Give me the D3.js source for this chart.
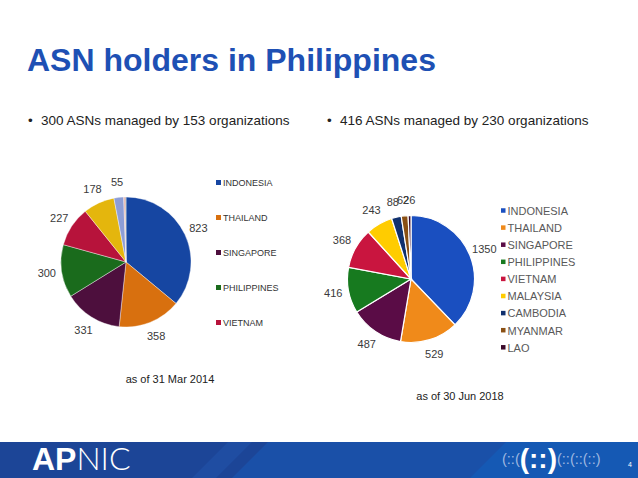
<!DOCTYPE html>
<html>
<head>
<meta charset="utf-8">
<script src="https://cdn.jsdelivr.net/npm/d3@7"></script>
<style>
  html, body { margin: 0; padding: 0; background: #fff; }
  svg { display: block; font-family: "Liberation Sans", Arial, sans-serif; }
</style>
</head>
<body>
<svg id="slide"></svg>
<script>
// 2014 chart
const countries2014 = ["INDONESIA", "THAILAND", "SINGAPORE", "PHILIPPINES", "VIETNAM", "MALAYSIA", "CAMBODIA", "MYANMAR", "LAO"];
const values2014 = [823, 358, 331, 300, 227, 178, 55, 8, 5];
const legend2014 = ["INDONESIA", "THAILAND", "SINGAPORE", "PHILIPPINES", "VIETNAM"];
const colors2014 = ["#1646a2", "#d8700f", "#4d0f3d", "#1a6b1c", "#b7133b", "#e4b60d", "#8d9dd6", "#e39d96", "#a89484"];

// 2018 chart
const countries2018 = ["INDONESIA", "THAILAND", "SINGAPORE", "PHILIPPINES", "VIETNAM", "MALAYSIA", "CAMBODIA", "MYANMAR", "LAO"];
const values2018 = [1350, 529, 487, 416, 368, 243, 88, 62, 26];
const colors2018 = ["#1a4fc0", "#f08a1a", "#5a0c46", "#177a1f", "#c9153f", "#ffcc00", "#10306e", "#8a5014", "#3a0a2a"];

const W = 638, H = 478;
const svg = d3.select("#slide").attr("width", W).attr("height", H);

// title + bullets
svg.append("text")
    .attr("x", 27).attr("y", 71)
    .attr("font-size", 32).attr("font-weight", "700")
    .attr("fill", "#1e50b4")
    .text("ASN holders in Philippines");

const bullets = [
    {x: 28, text: "300 ASNs managed by 153 organizations"},
    {x: 327, text: "416 ASNs managed by 230 organizations"}
];
bullets.forEach(b => {
    svg.append("text").attr("x", b.x).attr("y", 125).attr("font-size", 13.5).attr("fill", "#222").text("•");
    svg.append("text").attr("x", b.x + 13).attr("y", 125).attr("font-size", 13.5).attr("fill", "#222").text(b.text);
});

function drawPie(cfg) {
    let g = svg.append("g").attr("transform", `translate(${cfg.cx},${cfg.cy})`);
    let data = cfg.values.map((v, i) => ({name: cfg.names[i], value: v, color: cfg.colors[i], idx: i}));
    let pie = d3.pie().sort(null).value(d => d.value);
    let arcs = pie(data);
    let arc = d3.arc().innerRadius(0).outerRadius(cfg.r);
    let labelArc = d3.arc().innerRadius(cfg.labelR).outerRadius(cfg.labelR);

    g.selectAll(".slice").data(arcs).enter().append("path")
        .attr("class", "slice")
        .attr("d", arc)
        .attr("fill", d => d.data.color)
        .attr("stroke", "#fff")
        .attr("stroke-width", cfg.stroke);

    // outside-end labels, the small ones overlap as in the original slide
    g.selectAll(".lbl").data(arcs.filter(d => d.data.idx < cfg.nLabels)).enter().append("text")
        .attr("class", "lbl")
        .attr("transform", d => `translate(${labelArc.centroid(d)})`)
        .attr("text-anchor", "middle")
        .attr("dy", "0.35em")
        .attr("font-size", 11)
        .attr("fill", "#3a3a3a")
        .text(d => d.data.value);

    let lg = svg.append("g");
    let items = lg.selectAll(".item").data(cfg.legend).enter().append("g")
        .attr("transform", (d, i) => `translate(${cfg.lx},${cfg.ly + i * cfg.lstep})`);
    items.append("rect")
        .attr("x", 0).attr("y", -cfg.sq / 2 - 0.5)
        .attr("width", cfg.sq).attr("height", cfg.sq)
        .attr("fill", (d, i) => cfg.colors[i]);
    items.append("text")
        .attr("x", cfg.sq + 2).attr("dy", "0.35em")
        .attr("font-size", cfg.lfs)
        .attr("fill", cfg.lcolor)
        .text(d => d);

    svg.append("text")
        .attr("x", cfg.capX).attr("y", cfg.capY)
        .attr("text-anchor", "middle")
        .attr("font-size", 11)
        .attr("fill", "#222")
        .text(cfg.caption);
}

drawPie({
    cx: 126, cy: 262, r: 65, labelR: 80, stroke: 0.4,
    values: values2014, names: countries2014, colors: colors2014, nLabels: 7,
    legend: legend2014, lx: 216, ly: 183, lstep: 35, sq: 5, lfs: 9, lcolor: "#333",
    caption: "as of 31 Mar 2014", capX: 170, capY: 383
});

drawPie({
    cx: 411, cy: 279, r: 63.5, labelR: 79, stroke: 1.2,
    values: values2018, names: countries2018, colors: colors2018, nLabels: 9,
    legend: countries2018, lx: 501, ly: 211, lstep: 17.1, sq: 4.5, lfs: 11, lcolor: "#595959",
    caption: "as of 30 Jun 2018", capX: 460, capY: 400
});

// footer band
let foot = svg.append("g");
foot.append("rect").attr("x", 0).attr("y", 442).attr("width", W).attr("height", 36).attr("fill", "#1c4597");
foot.append("polygon").attr("points", "192,478 228,442 252,442 216,478").attr("fill", "#1f4da2");
foot.append("polygon").attr("points", "232,478 268,442 638,442 638,478").attr("fill", "#1a50a8");
foot.append("polygon").attr("points", "470,478 506,442 638,442 638,478").attr("fill", "#1559b4");

let logo = foot.append("text").attr("x", 32).attr("y", 470).attr("font-size", 32).attr("fill", "#fff");
logo.append("tspan").attr("font-weight", "700").text("AP");
logo.append("tspan").attr("font-weight", "300").attr("font-family", "Lato, 'Liberation Sans', sans-serif").text("NIC");

let mark = foot.append("text").attr("x", 502).attr("y", 464).attr("font-size", 14.5).attr("fill", "#9fb8e0");
mark.append("tspan").text("(::(");
mark.append("tspan").attr("font-size", 28).attr("font-weight", "700").attr("fill", "#fff").attr("dy", 4).text("(::)");
mark.append("tspan").attr("dy", -4).text("(::(::(::)");

foot.append("text").attr("x", 628).attr("y", 467).attr("font-size", 7).attr("fill", "#fff").text("4");
</script>
</body>
</html>
